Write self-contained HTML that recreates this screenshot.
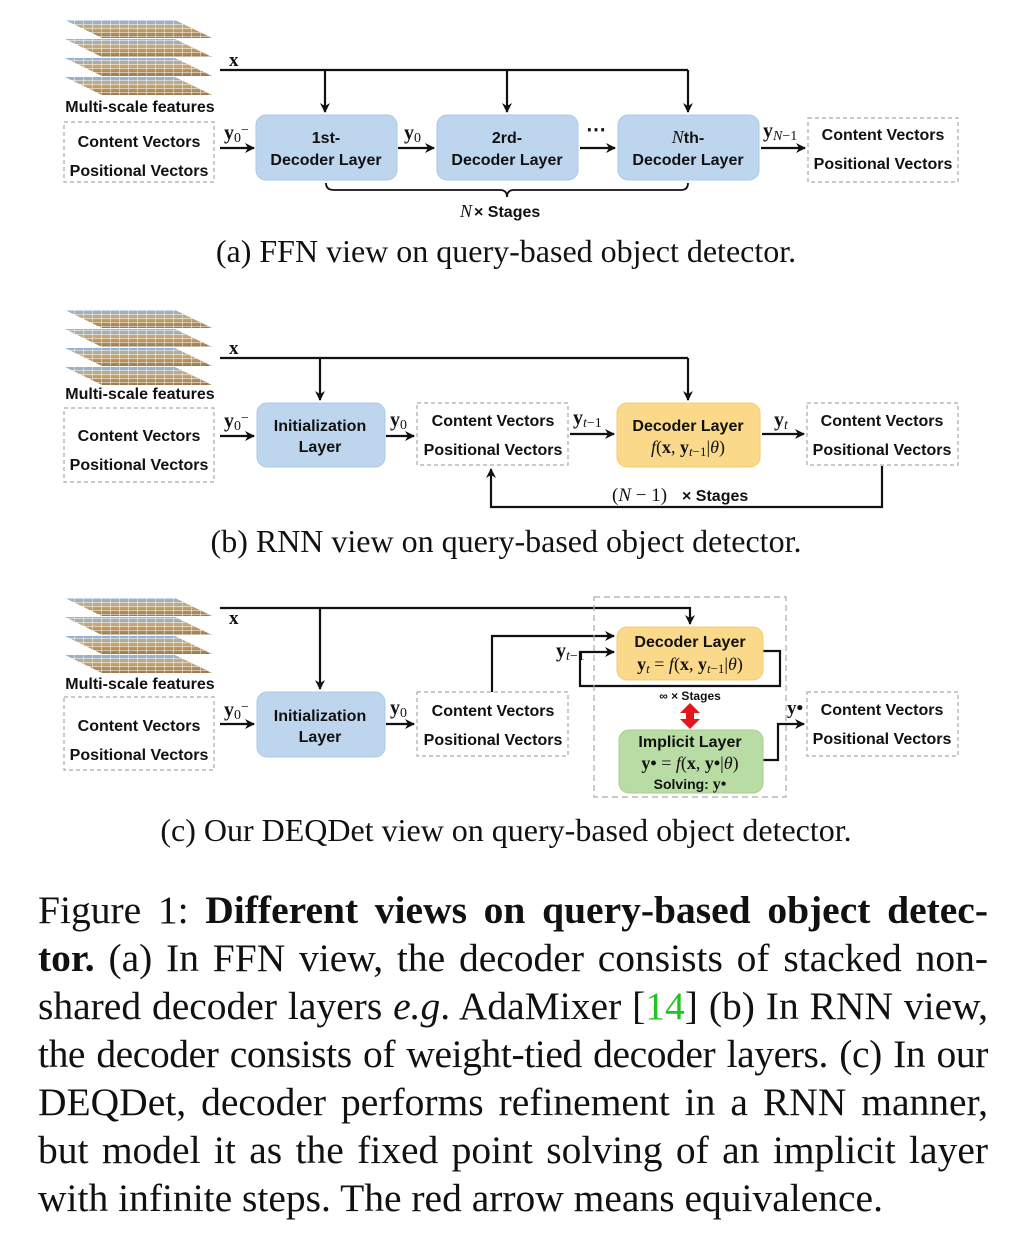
<!DOCTYPE html>
<html><head><meta charset="utf-8">
<style>
html,body{margin:0;padding:0;background:#fff;}
body{width:1011px;height:1249px;position:relative;overflow:hidden;}
svg{position:absolute;left:0;top:0;}
.s{font-family:"Liberation Sans",sans-serif;font-weight:bold;font-size:16px;fill:#111;}
.m{font-family:"Liberation Serif",serif;font-size:17px;fill:#111;}
.cap{font-family:"Liberation Serif",serif;font-size:32px;fill:#111;}
.fc{position:absolute;left:38px;width:950px;font-family:"Liberation Serif",serif;font-size:39.5px;line-height:48px;top:886px;color:#111;}
.fc div{text-align:justify;text-align-last:justify;white-space:nowrap;}
</style></head><body>
<svg width="1011" height="1249" viewBox="0 0 1011 1249">
<defs>
<marker id="ar" markerWidth="10" markerHeight="10" refX="9" refY="5" orient="auto" markerUnits="userSpaceOnUse">
<path d="M0,0 L10,5 L0,10 L3,5 z" fill="#111"/></marker>
<linearGradient id="img" x1="0" y1="0" x2="0" y2="1">
<stop offset="0" stop-color="#8fb4dc"/><stop offset="0.45" stop-color="#c9a772"/><stop offset="1" stop-color="#9a7a4c"/></linearGradient>
<pattern id="grid" width="9" height="4" patternUnits="userSpaceOnUse">
<path d="M9,0 L0,0 0,4" fill="none" stroke="#fff" stroke-width="0.9"/></pattern>
<g id="feat">
<polygon points="0,0 110,0 147,18 37,18" fill="url(#img)"/><polygon points="0,0 110,0 147,18 37,18" fill="url(#grid)"/>
<polygon points="0,19 110,19 147,37 37,37" fill="url(#img)"/><polygon points="0,19 110,19 147,37 37,37" fill="url(#grid)"/>
<polygon points="0,38 110,38 147,56 37,56" fill="url(#img)"/><polygon points="0,38 110,38 147,56 37,56" fill="url(#grid)"/>
<polygon points="0,57 110,57 147,75 37,75" fill="url(#img)"/><polygon points="0,57 110,57 147,75 37,75" fill="url(#grid)"/>
</g>
</defs>
<g stroke="#111" stroke-width="2.2" fill="none">
<path d="M220,70 H688"/>
<path d="M325,70 V112" marker-end="url(#ar)"/><path d="M507,70 V112" marker-end="url(#ar)"/><path d="M688,70 V112" marker-end="url(#ar)"/>
<path d="M220,148 H254" marker-end="url(#ar)"/><path d="M398,148 H434" marker-end="url(#ar)"/><path d="M580,148 H615" marker-end="url(#ar)"/><path d="M761,148 H805" marker-end="url(#ar)"/>
<path d="M326,183 Q326,190 334,190 H500 Q507,190 507,197 Q507,190 514,190 H681 Q688,190 688,183" stroke-width="1.8"/>
<path d="M220,358 H688"/>
<path d="M320,358 V400" marker-end="url(#ar)"/><path d="M688,358 V400" marker-end="url(#ar)"/>
<path d="M220,436 H254" marker-end="url(#ar)"/><path d="M386,436 H414" marker-end="url(#ar)"/><path d="M570,434 H614" marker-end="url(#ar)"/><path d="M762,434 H804" marker-end="url(#ar)"/>
<path d="M882,466 V507 H491 V469" marker-end="url(#ar)"/>
<path d="M220,608 H690 V624" marker-end="url(#ar)"/>
<path d="M320,608 V689" marker-end="url(#ar)"/>
<path d="M220,724 H254" marker-end="url(#ar)"/><path d="M386,724 H414" marker-end="url(#ar)"/>
<path d="M492,692 V636 H614" marker-end="url(#ar)"/>
<path d="M763,651 H780 V686 H580 V652 H614" marker-end="url(#ar)"/>
<path d="M763,760 H778 V724 H804" marker-end="url(#ar)"/>
</g>
<use href="#feat" x="65" y="20"/><use href="#feat" x="65" y="310"/><use href="#feat" x="65" y="598"/>
<g fill="#bdd6ee" stroke="#a9c8e6" stroke-width="1">
<rect x="256" y="115" width="141" height="65" rx="10"/><rect x="437" y="115" width="141" height="65" rx="10"/><rect x="618" y="115" width="141" height="65" rx="10"/>
<rect x="257" y="403" width="128" height="64" rx="10"/><rect x="257" y="692" width="128" height="65" rx="10"/>
</g>
<rect x="617" y="403" width="143" height="64" rx="10" fill="#fbd98a" stroke="#f3cc70"/>
<rect x="617" y="627" width="146" height="53" rx="10" fill="#fbd98a" stroke="#f3cc70"/>
<rect x="619" y="730" width="144" height="63" rx="10" fill="#b9dca5" stroke="#a5cf8f"/>
<g fill="none" stroke="#aaa" stroke-width="1.2" stroke-dasharray="4,3">
<rect x="64" y="122" width="150" height="60"/><rect x="808" y="118" width="150" height="64"/>
<rect x="64" y="408" width="150" height="74"/><rect x="417" y="403" width="151" height="62"/><rect x="807" y="403" width="151" height="62"/>
<rect x="64" y="697" width="150" height="73"/><rect x="417" y="692" width="151" height="64"/><rect x="807" y="692" width="151" height="64"/>
<rect x="594" y="597" width="192" height="200" stroke-dasharray="6,4"/>
</g>
<path d="M690,703 L700,713 H694 V719 H700 L690,729 L680,719 H686 V713 H680 z" fill="#e3161b"/>
<g class="s" text-anchor="middle">
<text x="140" y="112">Multi-scale features</text><text x="140" y="399">Multi-scale features</text><text x="140" y="689">Multi-scale features</text>
<text x="139" y="147">Content Vectors</text><text x="139" y="176">Positional Vectors</text>
<text x="326" y="143">1st-</text><text x="326" y="165">Decoder Layer</text>
<text x="507" y="143">2rd-</text><text x="507" y="165">Decoder Layer</text>
<text x="688" y="143"><tspan font-family="Liberation Serif" font-style="italic" font-weight="normal" font-size="18">N</tspan>th-</text><text x="688" y="165">Decoder Layer</text>
<text x="883" y="140">Content Vectors</text><text x="883" y="169">Positional Vectors</text>
<text x="139" y="441">Content Vectors</text><text x="139" y="470">Positional Vectors</text>
<text x="320" y="431">Initialization</text><text x="320" y="452">Layer</text>
<text x="493" y="426">Content Vectors</text><text x="493" y="455">Positional Vectors</text>
<text x="688" y="431">Decoder Layer</text>
<text x="882" y="426">Content Vectors</text><text x="882" y="455">Positional Vectors</text>
<text x="139" y="731">Content Vectors</text><text x="139" y="760">Positional Vectors</text>
<text x="320" y="721">Initialization</text><text x="320" y="742">Layer</text>
<text x="493" y="716">Content Vectors</text><text x="493" y="745">Positional Vectors</text>
<text x="690" y="647">Decoder Layer</text>
<text x="690" y="747">Implicit Layer</text>
<text x="690" y="789" font-size="14">Solving: <tspan font-family="Liberation Serif" font-size="16">y•</tspan></text>
<text x="690" y="700" font-size="12">∞ × Stages</text>
<text x="882" y="715">Content Vectors</text><text x="882" y="744">Positional Vectors</text>
</g>
<g class="m">
<text x="229" y="66" font-weight="bold" font-size="19">x</text><text x="229" y="354" font-weight="bold" font-size="19">x</text><text x="229" y="624" font-weight="bold" font-size="19">x</text>
<text x="224" y="139" font-size="20"><tspan font-weight="bold">y</tspan><tspan font-size="14" dy="3">0</tspan><tspan dy="-8" font-size="14">−</tspan></text>
<text x="404" y="139" font-size="20"><tspan font-weight="bold">y</tspan><tspan font-size="14" dy="3">0</tspan></text>
<text x="586" y="136" font-size="20" font-weight="bold">⋯</text>
<text x="763" y="137" font-size="20"><tspan font-weight="bold">y</tspan><tspan font-size="14" dy="3" font-style="italic">N</tspan><tspan font-size="14">−1</tspan></text>
<text x="460" y="217" font-style="italic" font-size="18">N</text>
<text x="224" y="427" font-size="20"><tspan font-weight="bold">y</tspan><tspan font-size="14" dy="3">0</tspan><tspan dy="-8" font-size="14">−</tspan></text>
<text x="390" y="426" font-size="20"><tspan font-weight="bold">y</tspan><tspan font-size="14" dy="3">0</tspan></text>
<text x="573" y="424" font-size="20"><tspan font-weight="bold">y</tspan><tspan font-size="14" dy="3" font-style="italic">t</tspan><tspan font-size="14">−1</tspan></text>
<text x="774" y="426" font-size="20"><tspan font-weight="bold">y</tspan><tspan font-size="14" dy="3" font-style="italic">t</tspan></text>
<text x="688" y="453" text-anchor="middle" font-size="18"><tspan font-style="italic">f</tspan>(<tspan font-weight="bold">x</tspan>, <tspan font-weight="bold">y</tspan><tspan font-size="13" dy="3"><tspan font-style="italic">t</tspan>−1</tspan><tspan dy="-3">|</tspan><tspan font-style="italic">θ</tspan>)</text>
<text x="612" y="501" font-size="19">(<tspan font-style="italic">N</tspan> − 1)</text>
<text x="224" y="716" font-size="20"><tspan font-weight="bold">y</tspan><tspan font-size="14" dy="3">0</tspan><tspan dy="-8" font-size="14">−</tspan></text>
<text x="390" y="714" font-size="20"><tspan font-weight="bold">y</tspan><tspan font-size="14" dy="3">0</tspan></text>
<text x="556" y="657" font-size="20"><tspan font-weight="bold">y</tspan><tspan font-size="14" dy="3" font-style="italic">t</tspan><tspan font-size="14">−1</tspan></text>
<text x="690" y="670" text-anchor="middle" font-size="18"><tspan font-weight="bold">y</tspan><tspan font-size="13" dy="3" font-style="italic">t</tspan><tspan dy="-3"> = </tspan><tspan font-style="italic">f</tspan>(<tspan font-weight="bold">x</tspan>, <tspan font-weight="bold">y</tspan><tspan font-size="13" dy="3"><tspan font-style="italic">t</tspan>−1</tspan><tspan dy="-3">|</tspan><tspan font-style="italic">θ</tspan>)</text>
<text x="690" y="769" text-anchor="middle" font-size="18"><tspan font-weight="bold">y•</tspan> = <tspan font-style="italic">f</tspan>(<tspan font-weight="bold">x</tspan>, <tspan font-weight="bold">y•</tspan>|<tspan font-style="italic">θ</tspan>)</text>
<text x="787" y="714" font-size="19" font-weight="bold">y•</text>
</g>
<text x="474" y="217" class="s">× Stages</text>
<text x="682" y="501" class="s">× Stages</text>
<g class="cap" text-anchor="middle">
<text x="506" y="262">(a) FFN view on query-based object detector.</text>
<text x="506" y="552">(b) RNN view on query-based object detector.</text>
<text x="506" y="841">(c) Our DEQDet view on query-based object detector.</text>
</g>
</svg>
<div class="fc">
<div>Figure 1: <b>Different views on query-based object detec-</b></div>
<div><b>tor.</b> (a) In FFN view, the decoder consists of stacked non-</div>
<div>shared decoder layers <i>e.g</i>. AdaMixer [<span style="color:#1fc41f">14</span>] (b) In RNN view,</div>
<div style="letter-spacing:-0.4px">the decoder consists of weight-tied decoder layers. (c) In our</div>
<div>DEQDet, decoder performs refinement in a RNN manner,</div>
<div>but model it as the fixed point solving of an implicit layer</div>
<div style="text-align-last:left">with infinite steps. The red arrow means equivalence.</div>
</div>
</body></html>
